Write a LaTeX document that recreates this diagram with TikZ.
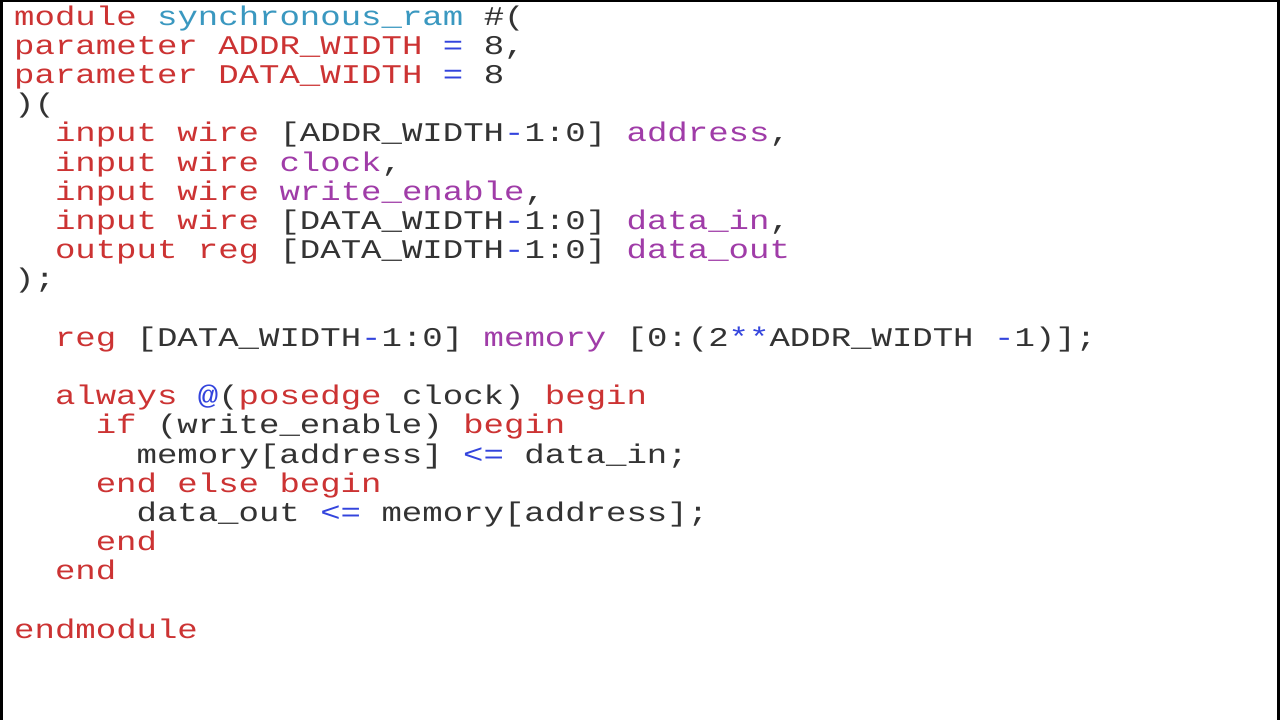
\documentclass[tikz,border=0pt]{standalone}
\usepackage{fontspec}
\newfontfamily\cmono[FakeStretch=1.26]{Liberation Mono}
\definecolor{kw}{HTML}{CC3333}
\definecolor{mn}{HTML}{3A98C0}
\definecolor{id}{HTML}{A03CA8}
\definecolor{tx}{HTML}{333333}
\definecolor{op}{HTML}{3344DD}
\newcommand{\ckw}[1]{\textcolor{kw}{#1}}
\newcommand{\cmn}[1]{\textcolor{mn}{#1}}
\newcommand{\cid}[1]{\textcolor{id}{#1}}
\newcommand{\cop}[1]{\textcolor{op}{#1}}
\begin{document}
\begin{tikzpicture}[x=1pt,y=-1pt,
  code/.style={anchor=base west,inner sep=0pt,text=tx,font=\cmono\fontsize{27}{27}\selectfont}]
\fill[black] (0,0) rectangle (1280,720);
\fill[white] (3,2) rectangle (1277,720);
\node[code] (l0) at (14,25) {\ckw{module} \cmn{synchronous\_ram} \#(};
\node[code] (l1) at (14,54.2) {\ckw{parameter ADDR\_WIDTH} \cop{=} 8,};
\node[code] (l2) at (14,83.4) {\ckw{parameter DATA\_WIDTH} \cop{=} 8};
\node[code] (l3) at (14,112.6) {)(};
\node[code] (l4) at (54.8,141.8) {\ckw{input wire} [ADDR\_WIDTH\cop{-}1:0] \cid{address},};
\node[code] (l5) at (54.8,171) {\ckw{input wire} \cid{clock},};
\node[code] (l6) at (54.8,200.2) {\ckw{input wire} \cid{write\_enable},};
\node[code] (l7) at (54.8,229.4) {\ckw{input wire} [DATA\_WIDTH\cop{-}1:0] \cid{data\_in},};
\node[code] (l8) at (54.8,258.6) {\ckw{output reg} [DATA\_WIDTH\cop{-}1:0] \cid{data\_out}};
\node[code] (l9) at (14,287.8) {);};
\node[code] (l11) at (54.8,346.2) {\ckw{reg} [DATA\_WIDTH\cop{-}1:0] \cid{memory} [0:(2\cop{**}ADDR\_WIDTH \cop{-}1)];};
\node[code] (l13) at (54.8,404.6) {\ckw{always} \cop{@}(\ckw{posedge} clock) \ckw{begin}};
\node[code] (l14) at (95.6,433.8) {\ckw{if} (write\_enable) \ckw{begin}};
\node[code] (l15) at (136.4,463) {memory[address] \cop{<=} data\_in;};
\node[code] (l16) at (95.6,492.2) {\ckw{end else begin}};
\node[code] (l17) at (136.4,521.4) {data\_out \cop{<=} memory[address];};
\node[code] (l18) at (95.6,550.6) {\ckw{end}};
\node[code] (l19) at (54.8,579.8) {\ckw{end}};
\node[code] (l21) at (14,638.2) {\ckw{endmodule}};
\end{tikzpicture}
\end{document}
